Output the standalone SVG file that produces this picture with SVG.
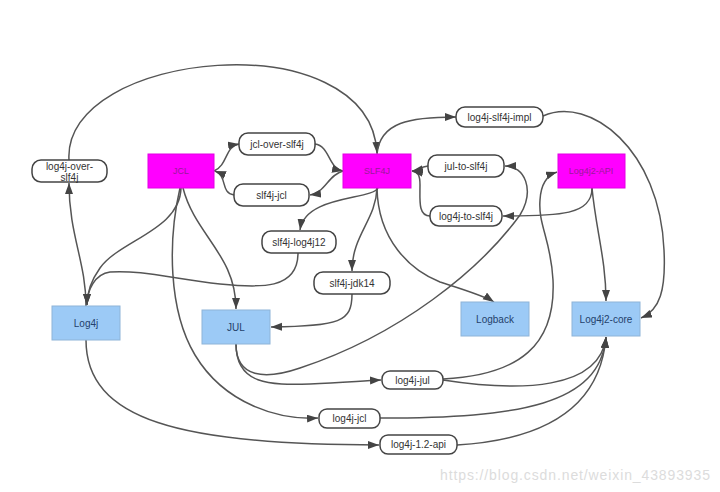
<svg xmlns="http://www.w3.org/2000/svg" width="720" height="492" viewBox="0 0 720 492">
<style>
.mag{fill:#ff00ff;stroke:#e400e4;stroke-width:1}
.blue{fill:#9ccaf6;stroke:#8eb4d8;stroke-width:1}
.pill{fill:#ffffff;stroke:#444;stroke-width:1.5}
.t{font-family:"Liberation Sans",Arial,sans-serif;font-size:10px;fill:#333;text-anchor:middle;dominant-baseline:central}
.tm{font-family:"Liberation Sans",Arial,sans-serif;font-size:9px;fill:#9a1a9a;text-anchor:middle;dominant-baseline:central}
.tb{font-family:"Liberation Sans",Arial,sans-serif;font-size:10px;fill:#24416b;text-anchor:middle;dominant-baseline:central}
.c{fill:none;stroke:#555;stroke-width:1.5;marker-end:url(#ah)}
.n{fill:none;stroke:#555;stroke-width:1.5}
</style>
<defs>
<marker id="ah" markerUnits="userSpaceOnUse" markerWidth="12" markerHeight="9" refX="11" refY="4" orient="auto">
<path d="M0,0 L11,4 L0,8 Z" fill="#444"/>
</marker>
</defs>
<rect width="720" height="492" fill="#ffffff"/>
<g id="connectors">
<path class="c" d="M69,160 C 62,50 370,20 377,153"/>
<path class="c" d="M86,306 C 86,262 69,235 69,183"/>
<path class="c" d="M214,171 C 228,165 225,146 239,144"/>
<path class="c" d="M315,144 C 330,146 328,168 343,171"/>
<path class="c" d="M343,171 C 328,175 325,193 310,195"/>
<path class="c" d="M234,195 C 220,193 228,176 215,171"/>
<path class="c" d="M377,154 C 380,122 410,117 456,117"/>
<path class="c" d="M543,116 C 590,95 660,150 664,250 C 666,290 660,310 641,318"/>
<path class="c" d="M428,166 C 420,167 418,170 412,171"/>
<path class="c" d="M430,216 C 418,216 420,200 420,185 C 420,175 418,172 412,171"/>
<path class="c" d="M592,188 C 592,215 560,216 503,216"/>
<path class="c" d="M592,188 C 596,230 606,260 606,301"/>
<path class="c" d="M443,379 C 520,375 556,345 553,280 C 551,240 538,225 540,200 C 541,182 548,175 557,172"/>
<path class="c" d="M443,380 C 520,392 600,390 606,337"/>
<path class="c" d="M236,344 C 236,378 265,380 300,368 C 400,335 480,270 520,215 C 535,190 525,166 505,166"/>
<path class="c" d="M236,344 C 236,385 270,385 310,384 C 340,383 360,381 381,380"/>
<path class="c" d="M183,188 C 195,235 236,255 236,309"/>
<path class="c" d="M181,188 C 180,230 120,240 100,268 C 90,282 87,295 87,305"/>
<path class="c" d="M180,188 C 168,240 168,310 195,355 C 225,405 280,420 318,418"/>
<path class="c" d="M378,188 C 372,200 305,195 300,230"/>
<path class="c" d="M298,253 C 298,290 260,288 220,284 C 170,278 140,270 110,272 C 95,274 87,290 87,305"/>
<path class="c" d="M377,188 C 376,220 352,235 352,271"/>
<path class="c" d="M352,294 C 352,322 340,326 271,327"/>
<path class="c" d="M377,188 C 378,240 410,270 440,282 C 465,290 485,296 494,302"/>
<path class="c" d="M86,340 C 86,420 180,445 379,445"/>
<path class="c" d="M380,418 C 520,418 600,405 606,337"/>
<path class="c" d="M457,445 C 540,440 600,410 606,337"/>
</g>
<g id="JCL"><rect class="mag" x="148" y="154" width="66" height="34"/><text class="tm" x="181" y="171">JCL</text></g>
<g id="SLF4J"><rect class="mag" x="343" y="154" width="68" height="34"/><text class="tm" x="377" y="171">SLF4J</text></g>
<g id="Log4j2-API"><rect class="mag" x="558" y="154" width="67" height="34"/><text class="tm" x="591" y="171">Log4j2-API</text></g>
<g id="log4j-over-slf4j"><rect class="pill" x="32" y="160" width="75" height="22" rx="9"/><text class="t" x="69.5" y="166">log4j-over-</text><text class="t" x="69.5" y="177">slf4j</text></g>
<g id="jcl-over-slf4j"><rect class="pill" x="239" y="133" width="76" height="22" rx="9"/><text class="t" x="277" y="144">jcl-over-slf4j</text></g>
<g id="slf4j-jcl"><rect class="pill" x="234" y="184" width="75" height="22" rx="9"/><text class="t" x="271.5" y="195">slf4j-jcl</text></g>
<g id="slf4j-log4j12"><rect class="pill" x="262" y="231" width="74" height="22" rx="9"/><text class="t" x="299" y="242">slf4j-log4j12</text></g>
<g id="slf4j-jdk14"><rect class="pill" x="314" y="272" width="76" height="22" rx="9"/><text class="t" x="352" y="283">slf4j-jdk14</text></g>
<g id="log4j-slf4j-impl"><rect class="pill" x="456" y="107" width="87" height="20" rx="9"/><text class="t" x="499.5" y="117">log4j-slf4j-impl</text></g>
<g id="jul-to-slf4j"><rect class="pill" x="428" y="155" width="76" height="22" rx="9"/><text class="t" x="466" y="166">jul-to-slf4j</text></g>
<g id="log4j-to-slf4j"><rect class="pill" x="430" y="206" width="72" height="20" rx="9"/><text class="t" x="466" y="216">log4j-to-slf4j</text></g>
<g id="Log4j"><rect class="blue" x="52" y="306" width="68" height="34"/><text class="tb" x="86" y="323">Log4j</text></g>
<g id="JUL"><rect class="blue" x="202" y="310" width="68" height="34"/><text class="tb" x="236" y="327">JUL</text></g>
<g id="Logback"><rect class="blue" x="461" y="302" width="68" height="34"/><text class="tb" x="495" y="319">Logback</text></g>
<g id="Log4j2-core"><rect class="blue" x="572" y="302" width="68" height="34"/><text class="tb" x="606" y="319">Log4j2-core</text></g>
<g id="log4j-jul"><rect class="pill" x="382" y="371" width="61" height="18" rx="8"/><text class="t" x="412.5" y="380">log4j-jul</text></g>
<g id="log4j-jcl"><rect class="pill" x="319" y="409" width="61" height="19" rx="8"/><text class="t" x="349.5" y="418.5">log4j-jcl</text></g>
<g id="log4j-1.2-api"><rect class="pill" x="380" y="435" width="77" height="19" rx="8"/><text class="t" x="418.5" y="444.5">log4j-1.2-api</text></g>
<text x="440" y="480" font-family="'Liberation Sans',Arial,sans-serif" font-size="14" fill="#dcdcdc" textLength="270">https://blog.csdn.net/weixin_43893935</text>
</svg>
